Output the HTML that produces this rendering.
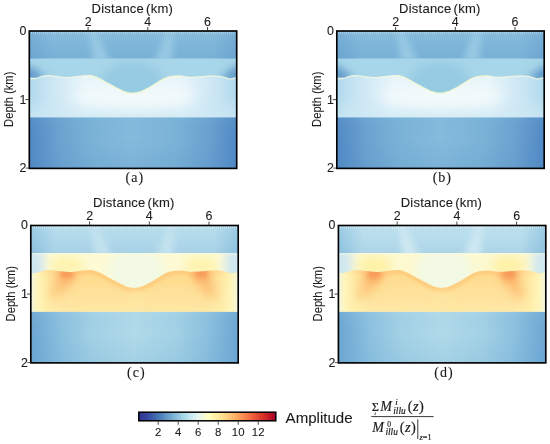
<!DOCTYPE html>
<html><head><meta charset="utf-8"><title>Figure</title>
<style>
html,body{margin:0;padding:0;background:#fff;}
body{width:550px;height:444px;overflow:hidden;}
svg{display:block;}
.ax{font-family:"Liberation Sans",Arial,sans-serif;fill:#1c1c1c;stroke:#1c1c1c;stroke-width:0.1px;}
.lab{font-family:"Liberation Serif","Times New Roman",serif;fill:#1c1c1c;stroke:#1c1c1c;stroke-width:0.12px;}
.fm text{font-family:"Liberation Serif","Times New Roman",serif;fill:#1c1c1c;stroke:#1c1c1c;stroke-width:0.18px;}
</style></head><body>
<svg width="550" height="444" viewBox="0 0 550 444">
<defs>
<clipPath id="clipP"><rect x="0.8" y="0.8" width="207.4" height="137.4"/></clipPath>
<clipPath id="clipTop"><rect x="0" y="0" width="209" height="28.6"/></clipPath>
<clipPath id="clipAbove"><path d="M-2.0,48.6 C-1.4,48.5 -0.1,48.4 1.5,48.3 C3.1,48.2 5.5,48.5 7.5,48.1 C9.5,47.8 11.5,46.7 13.5,46.2 C15.5,45.8 16.8,45.3 19.5,45.4 C22.2,45.5 26.2,46.3 29.5,46.6 C32.8,46.9 36.2,47.5 39.5,47.4 C42.8,47.3 46.2,46.5 49.5,46.2 C52.8,45.9 57.1,45.5 59.5,45.4 C61.9,45.3 62.7,45.6 64.0,45.9 C65.3,46.2 66.2,46.5 67.5,47.0 C68.8,47.5 70.2,48.1 71.5,48.8 C72.8,49.5 74.1,50.2 75.5,51.0 C76.9,51.8 78.6,52.7 80.0,53.5 C81.4,54.2 82.7,54.9 84.0,55.6 C85.3,56.4 86.7,57.1 88.0,57.9 C89.3,58.6 90.7,59.3 92.0,59.9 C93.3,60.6 94.7,61.2 96.0,61.7 C97.3,62.1 98.7,62.5 100.0,62.8 C101.3,63.1 102.7,63.2 104.0,63.2 C105.3,63.2 106.7,63.1 108.0,62.8 C109.3,62.5 110.7,62.1 112.0,61.7 C113.3,61.2 114.7,60.6 116.0,59.9 C117.3,59.3 118.7,58.6 120.0,57.9 C121.3,57.1 122.7,56.4 124.0,55.6 C125.3,54.8 126.7,53.9 128.0,53.1 C129.3,52.3 130.8,51.4 132.0,50.6 C133.2,49.9 134.2,49.2 135.5,48.6 C136.8,48.0 138.2,47.5 139.5,47.1 C140.8,46.7 141.5,46.5 143.5,46.3 C145.5,46.1 148.8,45.7 151.5,45.8 C154.2,45.9 156.8,46.8 159.5,47.0 C162.2,47.2 164.8,47.1 167.5,47.0 C170.2,46.9 172.8,46.4 175.5,46.2 C178.2,46.0 180.8,45.8 183.5,45.8 C186.2,45.8 189.2,45.9 191.5,46.2 C193.8,46.5 195.8,47.4 197.5,47.8 C199.2,48.2 200.2,48.8 201.5,48.8 C202.8,48.8 203.9,48.2 205.5,48.0 C207.1,47.8 210.1,47.8 211.0,47.8 L211,28.6 L-2,28.6 Z"/></clipPath>
<clipPath id="clipBelow"><path d="M-2.0,48.6 C-1.4,48.5 -0.1,48.4 1.5,48.3 C3.1,48.2 5.5,48.5 7.5,48.1 C9.5,47.8 11.5,46.7 13.5,46.2 C15.5,45.8 16.8,45.3 19.5,45.4 C22.2,45.5 26.2,46.3 29.5,46.6 C32.8,46.9 36.2,47.5 39.5,47.4 C42.8,47.3 46.2,46.5 49.5,46.2 C52.8,45.9 57.1,45.5 59.5,45.4 C61.9,45.3 62.7,45.6 64.0,45.9 C65.3,46.2 66.2,46.5 67.5,47.0 C68.8,47.5 70.2,48.1 71.5,48.8 C72.8,49.5 74.1,50.2 75.5,51.0 C76.9,51.8 78.6,52.7 80.0,53.5 C81.4,54.2 82.7,54.9 84.0,55.6 C85.3,56.4 86.7,57.1 88.0,57.9 C89.3,58.6 90.7,59.3 92.0,59.9 C93.3,60.6 94.7,61.2 96.0,61.7 C97.3,62.1 98.7,62.5 100.0,62.8 C101.3,63.1 102.7,63.2 104.0,63.2 C105.3,63.2 106.7,63.1 108.0,62.8 C109.3,62.5 110.7,62.1 112.0,61.7 C113.3,61.2 114.7,60.6 116.0,59.9 C117.3,59.3 118.7,58.6 120.0,57.9 C121.3,57.1 122.7,56.4 124.0,55.6 C125.3,54.8 126.7,53.9 128.0,53.1 C129.3,52.3 130.8,51.4 132.0,50.6 C133.2,49.9 134.2,49.2 135.5,48.6 C136.8,48.0 138.2,47.5 139.5,47.1 C140.8,46.7 141.5,46.5 143.5,46.3 C145.5,46.1 148.8,45.7 151.5,45.8 C154.2,45.9 156.8,46.8 159.5,47.0 C162.2,47.2 164.8,47.1 167.5,47.0 C170.2,46.9 172.8,46.4 175.5,46.2 C178.2,46.0 180.8,45.8 183.5,45.8 C186.2,45.8 189.2,45.9 191.5,46.2 C193.8,46.5 195.8,47.4 197.5,47.8 C199.2,48.2 200.2,48.8 201.5,48.8 C202.8,48.8 203.9,48.2 205.5,48.0 C207.1,47.8 210.1,47.8 211.0,47.8 L211,87.2 L-2,87.2 Z"/></clipPath>
<filter id="blur05" x="-5%" y="-50%" width="110%" height="200%"><feGaussianBlur stdDeviation="0.5"/></filter>
<filter id="blur2" x="-20%" y="-50%" width="140%" height="200%"><feGaussianBlur stdDeviation="1.8"/></filter>
<filter id="blur3" x="-50%" y="-50%" width="200%" height="200%"><feGaussianBlur stdDeviation="3"/></filter>
<filter id="blur4" x="-50%" y="-50%" width="200%" height="200%"><feGaussianBlur stdDeviation="4"/></filter>
<filter id="blur5" x="-50%" y="-50%" width="200%" height="200%"><feGaussianBlur stdDeviation="5"/></filter>
<filter id="blur6" x="-50%" y="-50%" width="200%" height="200%"><feGaussianBlur stdDeviation="6"/></filter>
<linearGradient id="topV" x1="0" x2="0" y1="0" y2="1">
  <stop offset="0" stop-color="#ffffff" stop-opacity="0.1"/>
  <stop offset="0.5" stop-color="#ffffff" stop-opacity="0"/>
  <stop offset="0.5" stop-color="#3f72b8" stop-opacity="0"/>
  <stop offset="1" stop-color="#3f72b8" stop-opacity="0.08"/>
</linearGradient>
<linearGradient id="cbar" x1="0" x2="1" y1="0" y2="0">
  <stop offset="0" stop-color="#313695"/>
  <stop offset="0.06" stop-color="#36479f"/>
  <stop offset="0.14" stop-color="#4575b4"/>
  <stop offset="0.24" stop-color="#74add1"/>
  <stop offset="0.33" stop-color="#abd9e9"/>
  <stop offset="0.42" stop-color="#e0f3f8"/>
  <stop offset="0.51" stop-color="#ffffbf"/>
  <stop offset="0.61" stop-color="#fee090"/>
  <stop offset="0.71" stop-color="#fdae61"/>
  <stop offset="0.81" stop-color="#f46d43"/>
  <stop offset="0.91" stop-color="#d73027"/>
  <stop offset="1" stop-color="#a50026"/>
</linearGradient>

<linearGradient id="blueedgeTop" x1="0" x2="1" y1="0" y2="0">
  <stop offset="0" stop-color="#6fa8d2" stop-opacity="1"/>
  <stop offset="0.12" stop-color="#6fa8d2" stop-opacity="0"/>
  <stop offset="0.88" stop-color="#6fa8d2" stop-opacity="0"/>
  <stop offset="1" stop-color="#6fa8d2" stop-opacity="1"/>
</linearGradient>
<linearGradient id="bluebotH" x1="0" x2="1" y1="0" y2="0">
  <stop offset="0" stop-color="#5088c5"/>
  <stop offset="0.15" stop-color="#6ba3d0"/>
  <stop offset="0.3" stop-color="#7bb3d7"/>
  <stop offset="0.5" stop-color="#85bbdc"/>
  <stop offset="0.7" stop-color="#7bb3d7"/>
  <stop offset="0.85" stop-color="#6ba3d0"/>
  <stop offset="1" stop-color="#5088c5"/>
</linearGradient>
<linearGradient id="bluebotV" x1="0" x2="0" y1="0" y2="1">
  <stop offset="0" stop-color="#85bbdc" stop-opacity="0.12"/>
  <stop offset="0.4" stop-color="#5088c5" stop-opacity="0"/>
  <stop offset="1" stop-color="#5088c5" stop-opacity="0.18"/>
</linearGradient>


<linearGradient id="warmedgeTop" x1="0" x2="1" y1="0" y2="0">
  <stop offset="0" stop-color="#93c6e1" stop-opacity="1"/>
  <stop offset="0.12" stop-color="#93c6e1" stop-opacity="0"/>
  <stop offset="0.88" stop-color="#93c6e1" stop-opacity="0"/>
  <stop offset="1" stop-color="#93c6e1" stop-opacity="1"/>
</linearGradient>
<linearGradient id="warmbotH" x1="0" x2="1" y1="0" y2="0">
  <stop offset="0" stop-color="#6aa5d2"/>
  <stop offset="0.15" stop-color="#8bc0de"/>
  <stop offset="0.3" stop-color="#a3d1e5"/>
  <stop offset="0.5" stop-color="#b0dae9"/>
  <stop offset="0.7" stop-color="#a3d1e5"/>
  <stop offset="0.85" stop-color="#8bc0de"/>
  <stop offset="1" stop-color="#6aa5d2"/>
</linearGradient>
<linearGradient id="warmbotV" x1="0" x2="0" y1="0" y2="1">
  <stop offset="0" stop-color="#b0dae9" stop-opacity="0.12"/>
  <stop offset="0.4" stop-color="#6aa5d2" stop-opacity="0"/>
  <stop offset="1" stop-color="#6aa5d2" stop-opacity="0.18"/>
</linearGradient>


<linearGradient id="warm2edgeTop" x1="0" x2="1" y1="0" y2="0">
  <stop offset="0" stop-color="#93c6e1" stop-opacity="1"/>
  <stop offset="0.12" stop-color="#93c6e1" stop-opacity="0"/>
  <stop offset="0.88" stop-color="#93c6e1" stop-opacity="0"/>
  <stop offset="1" stop-color="#93c6e1" stop-opacity="1"/>
</linearGradient>
<linearGradient id="warm2botH" x1="0" x2="1" y1="0" y2="0">
  <stop offset="0" stop-color="#6aa5d2"/>
  <stop offset="0.15" stop-color="#8bc0de"/>
  <stop offset="0.3" stop-color="#a3d1e5"/>
  <stop offset="0.5" stop-color="#b0dae9"/>
  <stop offset="0.7" stop-color="#a3d1e5"/>
  <stop offset="0.85" stop-color="#8bc0de"/>
  <stop offset="1" stop-color="#6aa5d2"/>
</linearGradient>
<linearGradient id="warm2botV" x1="0" x2="0" y1="0" y2="1">
  <stop offset="0" stop-color="#b0dae9" stop-opacity="0.12"/>
  <stop offset="0.4" stop-color="#6aa5d2" stop-opacity="0"/>
  <stop offset="1" stop-color="#6aa5d2" stop-opacity="0.18"/>
</linearGradient>


<linearGradient id="bluethirdH" x1="0" x2="1" y1="0" y2="0">
  <stop offset="0" stop-color="#aed8ed" stop-opacity="1"/>
  <stop offset="0.1" stop-color="#b4dbee" stop-opacity="0.6"/>
  <stop offset="0.27" stop-color="#b4dbee" stop-opacity="0"/>
  <stop offset="0.73" stop-color="#b4dbee" stop-opacity="0"/>
  <stop offset="0.9" stop-color="#b4dbee" stop-opacity="0.6"/>
  <stop offset="1" stop-color="#aed8ed" stop-opacity="1"/>
</linearGradient>
<linearGradient id="bluethirdV" x1="0" x2="0" y1="0" y2="1">
  <stop offset="0.55" stop-color="#cde8f4" stop-opacity="0"/>
  <stop offset="1" stop-color="#cde8f4" stop-opacity="0.75"/>
</linearGradient>
<linearGradient id="warmthirdH" x1="0" x2="1" y1="0" y2="0">
  <stop offset="0" stop-color="#eef6e6" stop-opacity="1"/>
  <stop offset="0.035" stop-color="#fff6bd" stop-opacity="0.95"/>
  <stop offset="0.09" stop-color="#fff3b0" stop-opacity="0.5"/>
  <stop offset="0.16" stop-color="#fff3b0" stop-opacity="0"/>
  <stop offset="0.84" stop-color="#fff3b0" stop-opacity="0"/>
  <stop offset="0.91" stop-color="#fff3b0" stop-opacity="0.5"/>
  <stop offset="0.965" stop-color="#fff6bd" stop-opacity="0.95"/>
  <stop offset="1" stop-color="#eef6e6" stop-opacity="1"/>
</linearGradient>
<linearGradient id="warmthirdV" x1="0" x2="0" y1="0" y2="1">
  <stop offset="0.3" stop-color="#feeaaa" stop-opacity="0"/>
  <stop offset="1" stop-color="#feeaaa" stop-opacity="0.9"/>
</linearGradient>


<g id="blue">
  <g clip-path="url(#clipP)">
    <!-- top layer -->
    <rect x="0" y="0" width="209" height="28.6" fill="#7eb6d9"/>
    <rect x="0" y="0" width="209" height="28.6" fill="url(#blueedgeTop)"/>
    <rect x="0" y="0" width="209" height="28.6" fill="url(#topV)"/>
    <g filter="url(#blur3)" clip-path="url(#clipTop)">
      <polygon points="60.5,-2 66.5,-2 82,31.6 65,31.6" fill="#98c9e3"/>
      <polygon points="139.5,-2 145.5,-2 143,31.6 126,31.6" fill="#98c9e3"/>
    </g>
    <!-- second layer -->
    <path d="M-2.0,48.6 C-1.4,48.5 -0.1,48.4 1.5,48.3 C3.1,48.2 5.5,48.5 7.5,48.1 C9.5,47.8 11.5,46.7 13.5,46.2 C15.5,45.8 16.8,45.3 19.5,45.4 C22.2,45.5 26.2,46.3 29.5,46.6 C32.8,46.9 36.2,47.5 39.5,47.4 C42.8,47.3 46.2,46.5 49.5,46.2 C52.8,45.9 57.1,45.5 59.5,45.4 C61.9,45.3 62.7,45.6 64.0,45.9 C65.3,46.2 66.2,46.5 67.5,47.0 C68.8,47.5 70.2,48.1 71.5,48.8 C72.8,49.5 74.1,50.2 75.5,51.0 C76.9,51.8 78.6,52.7 80.0,53.5 C81.4,54.2 82.7,54.9 84.0,55.6 C85.3,56.4 86.7,57.1 88.0,57.9 C89.3,58.6 90.7,59.3 92.0,59.9 C93.3,60.6 94.7,61.2 96.0,61.7 C97.3,62.1 98.7,62.5 100.0,62.8 C101.3,63.1 102.7,63.2 104.0,63.2 C105.3,63.2 106.7,63.1 108.0,62.8 C109.3,62.5 110.7,62.1 112.0,61.7 C113.3,61.2 114.7,60.6 116.0,59.9 C117.3,59.3 118.7,58.6 120.0,57.9 C121.3,57.1 122.7,56.4 124.0,55.6 C125.3,54.8 126.7,53.9 128.0,53.1 C129.3,52.3 130.8,51.4 132.0,50.6 C133.2,49.9 134.2,49.2 135.5,48.6 C136.8,48.0 138.2,47.5 139.5,47.1 C140.8,46.7 141.5,46.5 143.5,46.3 C145.5,46.1 148.8,45.7 151.5,45.8 C154.2,45.9 156.8,46.8 159.5,47.0 C162.2,47.2 164.8,47.1 167.5,47.0 C170.2,46.9 172.8,46.4 175.5,46.2 C178.2,46.0 180.8,45.8 183.5,45.8 C186.2,45.8 189.2,45.9 191.5,46.2 C193.8,46.5 195.8,47.4 197.5,47.8 C199.2,48.2 200.2,48.8 201.5,48.8 C202.8,48.8 203.9,48.2 205.5,48.0 C207.1,47.8 210.1,47.8 211.0,47.8 L211,28.6 L-2,28.6 Z" fill="#a7d5e9"/>
    <g clip-path="url(#clipAbove)">
      
  <g filter="url(#blur4)">
    <ellipse cx="104" cy="52" rx="30" ry="20" fill="#95cae3" opacity="0.95"/>
    <polygon points="-6,36.6 3,36.6 20,50 -6,52" fill="#5f98c9"/>
    <polygon points="215,36.6 206,36.6 190,50 215,52" fill="#5f98c9"/>
  </g>
    </g>
    <!-- third layer -->
    <path d="M-2.0,48.6 C-1.4,48.5 -0.1,48.4 1.5,48.3 C3.1,48.2 5.5,48.5 7.5,48.1 C9.5,47.8 11.5,46.7 13.5,46.2 C15.5,45.8 16.8,45.3 19.5,45.4 C22.2,45.5 26.2,46.3 29.5,46.6 C32.8,46.9 36.2,47.5 39.5,47.4 C42.8,47.3 46.2,46.5 49.5,46.2 C52.8,45.9 57.1,45.5 59.5,45.4 C61.9,45.3 62.7,45.6 64.0,45.9 C65.3,46.2 66.2,46.5 67.5,47.0 C68.8,47.5 70.2,48.1 71.5,48.8 C72.8,49.5 74.1,50.2 75.5,51.0 C76.9,51.8 78.6,52.7 80.0,53.5 C81.4,54.2 82.7,54.9 84.0,55.6 C85.3,56.4 86.7,57.1 88.0,57.9 C89.3,58.6 90.7,59.3 92.0,59.9 C93.3,60.6 94.7,61.2 96.0,61.7 C97.3,62.1 98.7,62.5 100.0,62.8 C101.3,63.1 102.7,63.2 104.0,63.2 C105.3,63.2 106.7,63.1 108.0,62.8 C109.3,62.5 110.7,62.1 112.0,61.7 C113.3,61.2 114.7,60.6 116.0,59.9 C117.3,59.3 118.7,58.6 120.0,57.9 C121.3,57.1 122.7,56.4 124.0,55.6 C125.3,54.8 126.7,53.9 128.0,53.1 C129.3,52.3 130.8,51.4 132.0,50.6 C133.2,49.9 134.2,49.2 135.5,48.6 C136.8,48.0 138.2,47.5 139.5,47.1 C140.8,46.7 141.5,46.5 143.5,46.3 C145.5,46.1 148.8,45.7 151.5,45.8 C154.2,45.9 156.8,46.8 159.5,47.0 C162.2,47.2 164.8,47.1 167.5,47.0 C170.2,46.9 172.8,46.4 175.5,46.2 C178.2,46.0 180.8,45.8 183.5,45.8 C186.2,45.8 189.2,45.9 191.5,46.2 C193.8,46.5 195.8,47.4 197.5,47.8 C199.2,48.2 200.2,48.8 201.5,48.8 C202.8,48.8 203.9,48.2 205.5,48.0 C207.1,47.8 210.1,47.8 211.0,47.8 L211,87.2 L-2,87.2 Z" fill="#e8f5fa"/>
    <g clip-path="url(#clipBelow)">
      
  <rect x="0" y="40" width="209" height="50" fill="url(#bluethirdH)"/>
  <rect x="0" y="40" width="209" height="47.2" fill="url(#bluethirdV)"/>
  <g filter="url(#blur6)"><ellipse cx="106" cy="66" rx="60" ry="12" fill="#f3fafc" opacity="0.85"/></g>

    </g>
    <g filter="url(#blur05)" opacity="0.85"><path d="M-2.0,48.6 C-1.4,48.5 -0.1,48.4 1.5,48.3 C3.1,48.2 5.5,48.5 7.5,48.1 C9.5,47.8 11.5,46.7 13.5,46.2 C15.5,45.8 16.8,45.3 19.5,45.4 C22.2,45.5 26.2,46.3 29.5,46.6 C32.8,46.9 36.2,47.5 39.5,47.4 C42.8,47.3 46.2,46.5 49.5,46.2 C52.8,45.9 57.1,45.5 59.5,45.4 C61.9,45.3 62.7,45.6 64.0,45.9 C65.3,46.2 66.2,46.5 67.5,47.0 C68.8,47.5 70.2,48.1 71.5,48.8 C72.8,49.5 74.1,50.2 75.5,51.0 C76.9,51.8 78.6,52.7 80.0,53.5 C81.4,54.2 82.7,54.9 84.0,55.6 C85.3,56.4 86.7,57.1 88.0,57.9 C89.3,58.6 90.7,59.3 92.0,59.9 C93.3,60.6 94.7,61.2 96.0,61.7 C97.3,62.1 98.7,62.5 100.0,62.8 C101.3,63.1 102.7,63.2 104.0,63.2 C105.3,63.2 106.7,63.1 108.0,62.8 C109.3,62.5 110.7,62.1 112.0,61.7 C113.3,61.2 114.7,60.6 116.0,59.9 C117.3,59.3 118.7,58.6 120.0,57.9 C121.3,57.1 122.7,56.4 124.0,55.6 C125.3,54.8 126.7,53.9 128.0,53.1 C129.3,52.3 130.8,51.4 132.0,50.6 C133.2,49.9 134.2,49.2 135.5,48.6 C136.8,48.0 138.2,47.5 139.5,47.1 C140.8,46.7 141.5,46.5 143.5,46.3 C145.5,46.1 148.8,45.7 151.5,45.8 C154.2,45.9 156.8,46.8 159.5,47.0 C162.2,47.2 164.8,47.1 167.5,47.0 C170.2,46.9 172.8,46.4 175.5,46.2 C178.2,46.0 180.8,45.8 183.5,45.8 C186.2,45.8 189.2,45.9 191.5,46.2 C193.8,46.5 195.8,47.4 197.5,47.8 C199.2,48.2 200.2,48.8 201.5,48.8 C202.8,48.8 203.9,48.2 205.5,48.0 C207.1,47.8 210.1,47.8 211.0,47.8" fill="none" stroke="#f1f7de" stroke-width="1.3"/>
    <path d="M59.5,45.4 C60.2,45.5 62.7,45.6 64.0,45.9 C65.3,46.2 66.2,46.5 67.5,47.0 C68.8,47.5 70.2,48.1 71.5,48.8 C72.8,49.5 74.1,50.2 75.5,51.0 C76.9,51.8 78.6,52.7 80.0,53.5 C81.4,54.2 82.7,54.9 84.0,55.6 C85.3,56.4 86.7,57.1 88.0,57.9 C89.3,58.6 90.7,59.3 92.0,59.9 C93.3,60.6 94.7,61.2 96.0,61.7 C97.3,62.1 98.7,62.5 100.0,62.8 C101.3,63.1 102.7,63.2 104.0,63.2 C105.3,63.2 106.7,63.1 108.0,62.8 C109.3,62.5 110.7,62.1 112.0,61.7 C113.3,61.2 114.7,60.6 116.0,59.9 C117.3,59.3 118.7,58.6 120.0,57.9 C121.3,57.1 122.7,56.4 124.0,55.6 C125.3,54.8 126.7,53.9 128.0,53.1 C129.3,52.3 130.8,51.4 132.0,50.6 C133.2,49.9 134.2,49.2 135.5,48.6 C136.8,48.0 138.2,47.5 139.5,47.1 C140.8,46.7 141.5,46.5 143.5,46.3 C145.5,46.1 150.2,45.9 151.5,45.8" fill="none" stroke="#f3f7d0" stroke-width="1.2" stroke-linecap="round"/></g>
    <!-- bottom layer -->
    <rect x="0" y="87.2" width="209" height="51.8" fill="url(#bluebotH)"/>
    <rect x="0" y="87.2" width="209" height="51.8" fill="url(#bluebotV)"/>
  </g>
  <rect x="0.8" y="0.8" width="207.4" height="137.4" fill="none" stroke="#000" stroke-width="1.65"/>
</g>

<g id="warm">
  <g clip-path="url(#clipP)">
    <!-- top layer -->
    <rect x="0" y="0" width="209" height="28.6" fill="#b1d9ea"/>
    <rect x="0" y="0" width="209" height="28.6" fill="url(#warmedgeTop)"/>
    <rect x="0" y="0" width="209" height="28.6" fill="url(#topV)"/>
    <g filter="url(#blur3)" clip-path="url(#clipTop)">
      <polygon points="60.5,-2 66.5,-2 82,31.6 65,31.6" fill="#c3e2ef"/>
      <polygon points="139.5,-2 145.5,-2 143,31.6 126,31.6" fill="#c3e2ef"/>
    </g>
    <!-- second layer -->
    <path d="M-2.0,48.6 C-1.4,48.5 -0.1,48.4 1.5,48.3 C3.1,48.2 5.5,48.5 7.5,48.1 C9.5,47.8 11.5,46.7 13.5,46.2 C15.5,45.8 16.8,45.3 19.5,45.4 C22.2,45.5 26.2,46.3 29.5,46.6 C32.8,46.9 36.2,47.5 39.5,47.4 C42.8,47.3 46.2,46.5 49.5,46.2 C52.8,45.9 57.1,45.5 59.5,45.4 C61.9,45.3 62.7,45.6 64.0,45.9 C65.3,46.2 66.2,46.5 67.5,47.0 C68.8,47.5 70.2,48.1 71.5,48.8 C72.8,49.5 74.1,50.2 75.5,51.0 C76.9,51.8 78.6,52.7 80.0,53.5 C81.4,54.2 82.7,54.9 84.0,55.6 C85.3,56.4 86.7,57.1 88.0,57.9 C89.3,58.6 90.7,59.3 92.0,59.9 C93.3,60.6 94.7,61.2 96.0,61.7 C97.3,62.1 98.7,62.5 100.0,62.8 C101.3,63.1 102.7,63.2 104.0,63.2 C105.3,63.2 106.7,63.1 108.0,62.8 C109.3,62.5 110.7,62.1 112.0,61.7 C113.3,61.2 114.7,60.6 116.0,59.9 C117.3,59.3 118.7,58.6 120.0,57.9 C121.3,57.1 122.7,56.4 124.0,55.6 C125.3,54.8 126.7,53.9 128.0,53.1 C129.3,52.3 130.8,51.4 132.0,50.6 C133.2,49.9 134.2,49.2 135.5,48.6 C136.8,48.0 138.2,47.5 139.5,47.1 C140.8,46.7 141.5,46.5 143.5,46.3 C145.5,46.1 148.8,45.7 151.5,45.8 C154.2,45.9 156.8,46.8 159.5,47.0 C162.2,47.2 164.8,47.1 167.5,47.0 C170.2,46.9 172.8,46.4 175.5,46.2 C178.2,46.0 180.8,45.8 183.5,45.8 C186.2,45.8 189.2,45.9 191.5,46.2 C193.8,46.5 195.8,47.4 197.5,47.8 C199.2,48.2 200.2,48.8 201.5,48.8 C202.8,48.8 203.9,48.2 205.5,48.0 C207.1,47.8 210.1,47.8 211.0,47.8 L211,28.6 L-2,28.6 Z" fill="#fdfad4"/>
    <g clip-path="url(#clipAbove)">
      
  <g filter="url(#blur5)">
    <ellipse cx="37" cy="41" rx="17" ry="10" fill="#fef2ac" opacity="0.95"/>
    <ellipse cx="171" cy="41" rx="17" ry="10" fill="#fef2ac" opacity="0.95"/>
    <ellipse cx="106" cy="46" rx="28" ry="24" fill="#f2f9e4" />
    <rect x="-8" y="24.6" width="22" height="34" fill="#cfe7f1"/>
    <rect x="195" y="24.6" width="22" height="34" fill="#cfe7f1"/>
  </g>
  <rect x="0" y="28.6" width="209" height="1.5" fill="#fffef0" opacity="0.25"/>
    </g>
    <!-- third layer -->
    <path d="M-2.0,48.6 C-1.4,48.5 -0.1,48.4 1.5,48.3 C3.1,48.2 5.5,48.5 7.5,48.1 C9.5,47.8 11.5,46.7 13.5,46.2 C15.5,45.8 16.8,45.3 19.5,45.4 C22.2,45.5 26.2,46.3 29.5,46.6 C32.8,46.9 36.2,47.5 39.5,47.4 C42.8,47.3 46.2,46.5 49.5,46.2 C52.8,45.9 57.1,45.5 59.5,45.4 C61.9,45.3 62.7,45.6 64.0,45.9 C65.3,46.2 66.2,46.5 67.5,47.0 C68.8,47.5 70.2,48.1 71.5,48.8 C72.8,49.5 74.1,50.2 75.5,51.0 C76.9,51.8 78.6,52.7 80.0,53.5 C81.4,54.2 82.7,54.9 84.0,55.6 C85.3,56.4 86.7,57.1 88.0,57.9 C89.3,58.6 90.7,59.3 92.0,59.9 C93.3,60.6 94.7,61.2 96.0,61.7 C97.3,62.1 98.7,62.5 100.0,62.8 C101.3,63.1 102.7,63.2 104.0,63.2 C105.3,63.2 106.7,63.1 108.0,62.8 C109.3,62.5 110.7,62.1 112.0,61.7 C113.3,61.2 114.7,60.6 116.0,59.9 C117.3,59.3 118.7,58.6 120.0,57.9 C121.3,57.1 122.7,56.4 124.0,55.6 C125.3,54.8 126.7,53.9 128.0,53.1 C129.3,52.3 130.8,51.4 132.0,50.6 C133.2,49.9 134.2,49.2 135.5,48.6 C136.8,48.0 138.2,47.5 139.5,47.1 C140.8,46.7 141.5,46.5 143.5,46.3 C145.5,46.1 148.8,45.7 151.5,45.8 C154.2,45.9 156.8,46.8 159.5,47.0 C162.2,47.2 164.8,47.1 167.5,47.0 C170.2,46.9 172.8,46.4 175.5,46.2 C178.2,46.0 180.8,45.8 183.5,45.8 C186.2,45.8 189.2,45.9 191.5,46.2 C193.8,46.5 195.8,47.4 197.5,47.8 C199.2,48.2 200.2,48.8 201.5,48.8 C202.8,48.8 203.9,48.2 205.5,48.0 C207.1,47.8 210.1,47.8 211.0,47.8 L211,87.2 L-2,87.2 Z" fill="#fedc90"/>
    <g clip-path="url(#clipBelow)">
      
  <rect x="0" y="40" width="209" height="50" fill="url(#warmthirdV)"/>
  <g filter="url(#blur2)">
    <path d="M-2.0,48.6 C-1.4,48.5 -0.1,48.4 1.5,48.3 C3.1,48.2 5.5,48.5 7.5,48.1 C9.5,47.8 11.5,46.7 13.5,46.2 C15.5,45.8 16.8,45.3 19.5,45.4 C22.2,45.5 26.2,46.3 29.5,46.6 C32.8,46.9 36.2,47.5 39.5,47.4 C42.8,47.3 46.2,46.5 49.5,46.2 C52.8,45.9 57.1,45.5 59.5,45.4 C61.9,45.3 62.7,45.6 64.0,45.9 C65.3,46.2 66.2,46.5 67.5,47.0 C68.8,47.5 70.2,48.1 71.5,48.8 C72.8,49.5 74.1,50.2 75.5,51.0 C76.9,51.8 78.6,52.7 80.0,53.5 C81.4,54.2 82.7,54.9 84.0,55.6 C85.3,56.4 86.7,57.1 88.0,57.9 C89.3,58.6 90.7,59.3 92.0,59.9 C93.3,60.6 94.7,61.2 96.0,61.7 C97.3,62.1 98.7,62.5 100.0,62.8 C101.3,63.1 102.7,63.2 104.0,63.2 C105.3,63.2 106.7,63.1 108.0,62.8 C109.3,62.5 110.7,62.1 112.0,61.7 C113.3,61.2 114.7,60.6 116.0,59.9 C117.3,59.3 118.7,58.6 120.0,57.9 C121.3,57.1 122.7,56.4 124.0,55.6 C125.3,54.8 126.7,53.9 128.0,53.1 C129.3,52.3 130.8,51.4 132.0,50.6 C133.2,49.9 134.2,49.2 135.5,48.6 C136.8,48.0 138.2,47.5 139.5,47.1 C140.8,46.7 141.5,46.5 143.5,46.3 C145.5,46.1 148.8,45.7 151.5,45.8 C154.2,45.9 156.8,46.8 159.5,47.0 C162.2,47.2 164.8,47.1 167.5,47.0 C170.2,46.9 172.8,46.4 175.5,46.2 C178.2,46.0 180.8,45.8 183.5,45.8 C186.2,45.8 189.2,45.9 191.5,46.2 C193.8,46.5 195.8,47.4 197.5,47.8 C199.2,48.2 200.2,48.8 201.5,48.8 C202.8,48.8 203.9,48.2 205.5,48.0 C207.1,47.8 210.1,47.8 211.0,47.8" fill="none" stroke="#fdbd6c" stroke-width="5" opacity="0.55" transform="translate(0,1.5)"/>
  </g>
  <g filter="url(#blur5)" opacity="0.75">
    <polygon points="27,44 46,44 42,58 24,74 14,74" fill="#fcb66c"/>
    <polygon points="162,44 181,44 192,74 180,74 166,58" fill="#fcb66c"/>
    <ellipse cx="106" cy="76" rx="5" ry="14" fill="#fee9a8" opacity="0.8"/>
  </g>
  <g filter="url(#blur3)">
    <ellipse cx="36" cy="50" rx="9" ry="5.5" fill="#f9a863"/>
    <ellipse cx="171.5" cy="50" rx="9" ry="5.5" fill="#f9a863"/>
  </g>
  <g filter="url(#blur2)">
    <ellipse cx="36.5" cy="49" rx="6" ry="3" fill="#f7975a" opacity="0.75"/>
    <ellipse cx="171.5" cy="48.6" rx="6" ry="3" fill="#f7975a" opacity="0.75"/>
  </g>
  <rect x="0" y="40" width="209" height="50" fill="url(#warmthirdH)"/>

    </g>
    <g filter="url(#blur05)" opacity="0.0"><path d="M-2.0,48.6 C-1.4,48.5 -0.1,48.4 1.5,48.3 C3.1,48.2 5.5,48.5 7.5,48.1 C9.5,47.8 11.5,46.7 13.5,46.2 C15.5,45.8 16.8,45.3 19.5,45.4 C22.2,45.5 26.2,46.3 29.5,46.6 C32.8,46.9 36.2,47.5 39.5,47.4 C42.8,47.3 46.2,46.5 49.5,46.2 C52.8,45.9 57.1,45.5 59.5,45.4 C61.9,45.3 62.7,45.6 64.0,45.9 C65.3,46.2 66.2,46.5 67.5,47.0 C68.8,47.5 70.2,48.1 71.5,48.8 C72.8,49.5 74.1,50.2 75.5,51.0 C76.9,51.8 78.6,52.7 80.0,53.5 C81.4,54.2 82.7,54.9 84.0,55.6 C85.3,56.4 86.7,57.1 88.0,57.9 C89.3,58.6 90.7,59.3 92.0,59.9 C93.3,60.6 94.7,61.2 96.0,61.7 C97.3,62.1 98.7,62.5 100.0,62.8 C101.3,63.1 102.7,63.2 104.0,63.2 C105.3,63.2 106.7,63.1 108.0,62.8 C109.3,62.5 110.7,62.1 112.0,61.7 C113.3,61.2 114.7,60.6 116.0,59.9 C117.3,59.3 118.7,58.6 120.0,57.9 C121.3,57.1 122.7,56.4 124.0,55.6 C125.3,54.8 126.7,53.9 128.0,53.1 C129.3,52.3 130.8,51.4 132.0,50.6 C133.2,49.9 134.2,49.2 135.5,48.6 C136.8,48.0 138.2,47.5 139.5,47.1 C140.8,46.7 141.5,46.5 143.5,46.3 C145.5,46.1 148.8,45.7 151.5,45.8 C154.2,45.9 156.8,46.8 159.5,47.0 C162.2,47.2 164.8,47.1 167.5,47.0 C170.2,46.9 172.8,46.4 175.5,46.2 C178.2,46.0 180.8,45.8 183.5,45.8 C186.2,45.8 189.2,45.9 191.5,46.2 C193.8,46.5 195.8,47.4 197.5,47.8 C199.2,48.2 200.2,48.8 201.5,48.8 C202.8,48.8 203.9,48.2 205.5,48.0 C207.1,47.8 210.1,47.8 211.0,47.8" fill="none" stroke="#fdc070" stroke-width="1.3"/>
    <path d="M59.5,45.4 C60.2,45.5 62.7,45.6 64.0,45.9 C65.3,46.2 66.2,46.5 67.5,47.0 C68.8,47.5 70.2,48.1 71.5,48.8 C72.8,49.5 74.1,50.2 75.5,51.0 C76.9,51.8 78.6,52.7 80.0,53.5 C81.4,54.2 82.7,54.9 84.0,55.6 C85.3,56.4 86.7,57.1 88.0,57.9 C89.3,58.6 90.7,59.3 92.0,59.9 C93.3,60.6 94.7,61.2 96.0,61.7 C97.3,62.1 98.7,62.5 100.0,62.8 C101.3,63.1 102.7,63.2 104.0,63.2 C105.3,63.2 106.7,63.1 108.0,62.8 C109.3,62.5 110.7,62.1 112.0,61.7 C113.3,61.2 114.7,60.6 116.0,59.9 C117.3,59.3 118.7,58.6 120.0,57.9 C121.3,57.1 122.7,56.4 124.0,55.6 C125.3,54.8 126.7,53.9 128.0,53.1 C129.3,52.3 130.8,51.4 132.0,50.6 C133.2,49.9 134.2,49.2 135.5,48.6 C136.8,48.0 138.2,47.5 139.5,47.1 C140.8,46.7 141.5,46.5 143.5,46.3 C145.5,46.1 150.2,45.9 151.5,45.8" fill="none" stroke="none" stroke-width="1.2" stroke-linecap="round"/></g>
    <!-- bottom layer -->
    <rect x="0" y="87.2" width="209" height="51.8" fill="url(#warmbotH)"/>
    <rect x="0" y="87.2" width="209" height="51.8" fill="url(#warmbotV)"/>
  </g>
  <rect x="0.8" y="0.8" width="207.4" height="137.4" fill="none" stroke="#000" stroke-width="1.65"/>
</g>

<g id="warm2">
  <g clip-path="url(#clipP)">
    <!-- top layer -->
    <rect x="0" y="0" width="209" height="28.6" fill="#b6dceb"/>
    <rect x="0" y="0" width="209" height="28.6" fill="url(#warm2edgeTop)"/>
    <rect x="0" y="0" width="209" height="28.6" fill="url(#topV)"/>
    <g filter="url(#blur3)" clip-path="url(#clipTop)">
      <polygon points="60.5,-2 66.5,-2 82,31.6 65,31.6" fill="#cde8f2"/>
      <polygon points="139.5,-2 145.5,-2 143,31.6 126,31.6" fill="#cde8f2"/>
    </g>
    <!-- second layer -->
    <path d="M-2.0,48.6 C-1.4,48.5 -0.1,48.4 1.5,48.3 C3.1,48.2 5.5,48.5 7.5,48.1 C9.5,47.8 11.5,46.7 13.5,46.2 C15.5,45.8 16.8,45.3 19.5,45.4 C22.2,45.5 26.2,46.3 29.5,46.6 C32.8,46.9 36.2,47.5 39.5,47.4 C42.8,47.3 46.2,46.5 49.5,46.2 C52.8,45.9 57.1,45.5 59.5,45.4 C61.9,45.3 62.7,45.6 64.0,45.9 C65.3,46.2 66.2,46.5 67.5,47.0 C68.8,47.5 70.2,48.1 71.5,48.8 C72.8,49.5 74.1,50.2 75.5,51.0 C76.9,51.8 78.6,52.7 80.0,53.5 C81.4,54.2 82.7,54.9 84.0,55.6 C85.3,56.4 86.7,57.1 88.0,57.9 C89.3,58.6 90.7,59.3 92.0,59.9 C93.3,60.6 94.7,61.2 96.0,61.7 C97.3,62.1 98.7,62.5 100.0,62.8 C101.3,63.1 102.7,63.2 104.0,63.2 C105.3,63.2 106.7,63.1 108.0,62.8 C109.3,62.5 110.7,62.1 112.0,61.7 C113.3,61.2 114.7,60.6 116.0,59.9 C117.3,59.3 118.7,58.6 120.0,57.9 C121.3,57.1 122.7,56.4 124.0,55.6 C125.3,54.8 126.7,53.9 128.0,53.1 C129.3,52.3 130.8,51.4 132.0,50.6 C133.2,49.9 134.2,49.2 135.5,48.6 C136.8,48.0 138.2,47.5 139.5,47.1 C140.8,46.7 141.5,46.5 143.5,46.3 C145.5,46.1 148.8,45.7 151.5,45.8 C154.2,45.9 156.8,46.8 159.5,47.0 C162.2,47.2 164.8,47.1 167.5,47.0 C170.2,46.9 172.8,46.4 175.5,46.2 C178.2,46.0 180.8,45.8 183.5,45.8 C186.2,45.8 189.2,45.9 191.5,46.2 C193.8,46.5 195.8,47.4 197.5,47.8 C199.2,48.2 200.2,48.8 201.5,48.8 C202.8,48.8 203.9,48.2 205.5,48.0 C207.1,47.8 210.1,47.8 211.0,47.8 L211,28.6 L-2,28.6 Z" fill="#fdf9d0"/>
    <g clip-path="url(#clipAbove)">
      
  <g filter="url(#blur5)">
    <ellipse cx="37" cy="41" rx="17" ry="10" fill="#fef0a4" opacity="0.95"/>
    <ellipse cx="171" cy="41" rx="17" ry="10" fill="#fef0a4" opacity="0.95"/>
    <ellipse cx="106" cy="46" rx="28" ry="24" fill="#f2f9e4" />
    <rect x="-8" y="24.6" width="22" height="34" fill="#cfe7f1"/>
    <rect x="195" y="24.6" width="22" height="34" fill="#cfe7f1"/>
  </g>
  <rect x="0" y="28.6" width="209" height="1.5" fill="#fffef0" opacity="0.25"/>
    </g>
    <!-- third layer -->
    <path d="M-2.0,48.6 C-1.4,48.5 -0.1,48.4 1.5,48.3 C3.1,48.2 5.5,48.5 7.5,48.1 C9.5,47.8 11.5,46.7 13.5,46.2 C15.5,45.8 16.8,45.3 19.5,45.4 C22.2,45.5 26.2,46.3 29.5,46.6 C32.8,46.9 36.2,47.5 39.5,47.4 C42.8,47.3 46.2,46.5 49.5,46.2 C52.8,45.9 57.1,45.5 59.5,45.4 C61.9,45.3 62.7,45.6 64.0,45.9 C65.3,46.2 66.2,46.5 67.5,47.0 C68.8,47.5 70.2,48.1 71.5,48.8 C72.8,49.5 74.1,50.2 75.5,51.0 C76.9,51.8 78.6,52.7 80.0,53.5 C81.4,54.2 82.7,54.9 84.0,55.6 C85.3,56.4 86.7,57.1 88.0,57.9 C89.3,58.6 90.7,59.3 92.0,59.9 C93.3,60.6 94.7,61.2 96.0,61.7 C97.3,62.1 98.7,62.5 100.0,62.8 C101.3,63.1 102.7,63.2 104.0,63.2 C105.3,63.2 106.7,63.1 108.0,62.8 C109.3,62.5 110.7,62.1 112.0,61.7 C113.3,61.2 114.7,60.6 116.0,59.9 C117.3,59.3 118.7,58.6 120.0,57.9 C121.3,57.1 122.7,56.4 124.0,55.6 C125.3,54.8 126.7,53.9 128.0,53.1 C129.3,52.3 130.8,51.4 132.0,50.6 C133.2,49.9 134.2,49.2 135.5,48.6 C136.8,48.0 138.2,47.5 139.5,47.1 C140.8,46.7 141.5,46.5 143.5,46.3 C145.5,46.1 148.8,45.7 151.5,45.8 C154.2,45.9 156.8,46.8 159.5,47.0 C162.2,47.2 164.8,47.1 167.5,47.0 C170.2,46.9 172.8,46.4 175.5,46.2 C178.2,46.0 180.8,45.8 183.5,45.8 C186.2,45.8 189.2,45.9 191.5,46.2 C193.8,46.5 195.8,47.4 197.5,47.8 C199.2,48.2 200.2,48.8 201.5,48.8 C202.8,48.8 203.9,48.2 205.5,48.0 C207.1,47.8 210.1,47.8 211.0,47.8 L211,87.2 L-2,87.2 Z" fill="#fedd92"/>
    <g clip-path="url(#clipBelow)">
      
  <rect x="0" y="40" width="209" height="50" fill="url(#warmthirdV)"/>
  <g filter="url(#blur2)">
    <path d="M-2.0,48.6 C-1.4,48.5 -0.1,48.4 1.5,48.3 C3.1,48.2 5.5,48.5 7.5,48.1 C9.5,47.8 11.5,46.7 13.5,46.2 C15.5,45.8 16.8,45.3 19.5,45.4 C22.2,45.5 26.2,46.3 29.5,46.6 C32.8,46.9 36.2,47.5 39.5,47.4 C42.8,47.3 46.2,46.5 49.5,46.2 C52.8,45.9 57.1,45.5 59.5,45.4 C61.9,45.3 62.7,45.6 64.0,45.9 C65.3,46.2 66.2,46.5 67.5,47.0 C68.8,47.5 70.2,48.1 71.5,48.8 C72.8,49.5 74.1,50.2 75.5,51.0 C76.9,51.8 78.6,52.7 80.0,53.5 C81.4,54.2 82.7,54.9 84.0,55.6 C85.3,56.4 86.7,57.1 88.0,57.9 C89.3,58.6 90.7,59.3 92.0,59.9 C93.3,60.6 94.7,61.2 96.0,61.7 C97.3,62.1 98.7,62.5 100.0,62.8 C101.3,63.1 102.7,63.2 104.0,63.2 C105.3,63.2 106.7,63.1 108.0,62.8 C109.3,62.5 110.7,62.1 112.0,61.7 C113.3,61.2 114.7,60.6 116.0,59.9 C117.3,59.3 118.7,58.6 120.0,57.9 C121.3,57.1 122.7,56.4 124.0,55.6 C125.3,54.8 126.7,53.9 128.0,53.1 C129.3,52.3 130.8,51.4 132.0,50.6 C133.2,49.9 134.2,49.2 135.5,48.6 C136.8,48.0 138.2,47.5 139.5,47.1 C140.8,46.7 141.5,46.5 143.5,46.3 C145.5,46.1 148.8,45.7 151.5,45.8 C154.2,45.9 156.8,46.8 159.5,47.0 C162.2,47.2 164.8,47.1 167.5,47.0 C170.2,46.9 172.8,46.4 175.5,46.2 C178.2,46.0 180.8,45.8 183.5,45.8 C186.2,45.8 189.2,45.9 191.5,46.2 C193.8,46.5 195.8,47.4 197.5,47.8 C199.2,48.2 200.2,48.8 201.5,48.8 C202.8,48.8 203.9,48.2 205.5,48.0 C207.1,47.8 210.1,47.8 211.0,47.8" fill="none" stroke="#fdbd6c" stroke-width="5" opacity="0.55" transform="translate(0,1.5)"/>
  </g>
  <g filter="url(#blur5)" opacity="0.8">
    <polygon points="27,44 46,44 42,58 24,74 14,74" fill="#fcb66c"/>
    <polygon points="162,44 181,44 192,74 180,74 166,58" fill="#fcb66c"/>
    <ellipse cx="106" cy="76" rx="5" ry="14" fill="#fee9a8" opacity="0.8"/>
  </g>
  <g filter="url(#blur3)">
    <ellipse cx="36" cy="50" rx="9" ry="5.5" fill="#f9a25d"/>
    <ellipse cx="171.5" cy="50" rx="9" ry="5.5" fill="#f9a25d"/>
  </g>
  <g filter="url(#blur2)">
    <ellipse cx="36.5" cy="49" rx="6" ry="3" fill="#f7975a" opacity="0.75"/>
    <ellipse cx="171.5" cy="48.6" rx="6" ry="3" fill="#f7975a" opacity="0.75"/>
  </g>
  <rect x="0" y="40" width="209" height="50" fill="url(#warmthirdH)"/>

    </g>
    <g filter="url(#blur05)" opacity="0.0"><path d="M-2.0,48.6 C-1.4,48.5 -0.1,48.4 1.5,48.3 C3.1,48.2 5.5,48.5 7.5,48.1 C9.5,47.8 11.5,46.7 13.5,46.2 C15.5,45.8 16.8,45.3 19.5,45.4 C22.2,45.5 26.2,46.3 29.5,46.6 C32.8,46.9 36.2,47.5 39.5,47.4 C42.8,47.3 46.2,46.5 49.5,46.2 C52.8,45.9 57.1,45.5 59.5,45.4 C61.9,45.3 62.7,45.6 64.0,45.9 C65.3,46.2 66.2,46.5 67.5,47.0 C68.8,47.5 70.2,48.1 71.5,48.8 C72.8,49.5 74.1,50.2 75.5,51.0 C76.9,51.8 78.6,52.7 80.0,53.5 C81.4,54.2 82.7,54.9 84.0,55.6 C85.3,56.4 86.7,57.1 88.0,57.9 C89.3,58.6 90.7,59.3 92.0,59.9 C93.3,60.6 94.7,61.2 96.0,61.7 C97.3,62.1 98.7,62.5 100.0,62.8 C101.3,63.1 102.7,63.2 104.0,63.2 C105.3,63.2 106.7,63.1 108.0,62.8 C109.3,62.5 110.7,62.1 112.0,61.7 C113.3,61.2 114.7,60.6 116.0,59.9 C117.3,59.3 118.7,58.6 120.0,57.9 C121.3,57.1 122.7,56.4 124.0,55.6 C125.3,54.8 126.7,53.9 128.0,53.1 C129.3,52.3 130.8,51.4 132.0,50.6 C133.2,49.9 134.2,49.2 135.5,48.6 C136.8,48.0 138.2,47.5 139.5,47.1 C140.8,46.7 141.5,46.5 143.5,46.3 C145.5,46.1 148.8,45.7 151.5,45.8 C154.2,45.9 156.8,46.8 159.5,47.0 C162.2,47.2 164.8,47.1 167.5,47.0 C170.2,46.9 172.8,46.4 175.5,46.2 C178.2,46.0 180.8,45.8 183.5,45.8 C186.2,45.8 189.2,45.9 191.5,46.2 C193.8,46.5 195.8,47.4 197.5,47.8 C199.2,48.2 200.2,48.8 201.5,48.8 C202.8,48.8 203.9,48.2 205.5,48.0 C207.1,47.8 210.1,47.8 211.0,47.8" fill="none" stroke="#fdc070" stroke-width="1.3"/>
    <path d="M59.5,45.4 C60.2,45.5 62.7,45.6 64.0,45.9 C65.3,46.2 66.2,46.5 67.5,47.0 C68.8,47.5 70.2,48.1 71.5,48.8 C72.8,49.5 74.1,50.2 75.5,51.0 C76.9,51.8 78.6,52.7 80.0,53.5 C81.4,54.2 82.7,54.9 84.0,55.6 C85.3,56.4 86.7,57.1 88.0,57.9 C89.3,58.6 90.7,59.3 92.0,59.9 C93.3,60.6 94.7,61.2 96.0,61.7 C97.3,62.1 98.7,62.5 100.0,62.8 C101.3,63.1 102.7,63.2 104.0,63.2 C105.3,63.2 106.7,63.1 108.0,62.8 C109.3,62.5 110.7,62.1 112.0,61.7 C113.3,61.2 114.7,60.6 116.0,59.9 C117.3,59.3 118.7,58.6 120.0,57.9 C121.3,57.1 122.7,56.4 124.0,55.6 C125.3,54.8 126.7,53.9 128.0,53.1 C129.3,52.3 130.8,51.4 132.0,50.6 C133.2,49.9 134.2,49.2 135.5,48.6 C136.8,48.0 138.2,47.5 139.5,47.1 C140.8,46.7 141.5,46.5 143.5,46.3 C145.5,46.1 150.2,45.9 151.5,45.8" fill="none" stroke="none" stroke-width="1.2" stroke-linecap="round"/></g>
    <!-- bottom layer -->
    <rect x="0" y="87.2" width="209" height="51.8" fill="url(#warm2botH)"/>
    <rect x="0" y="87.2" width="209" height="51.8" fill="url(#warm2botV)"/>
  </g>
  <rect x="0.8" y="0.8" width="207.4" height="137.4" fill="none" stroke="#000" stroke-width="1.65"/>
</g>
</defs>
<rect width="550" height="444" fill="#fff"/>
<use href="#blue" x="28.5" y="30.2"/>
<line x1="31" x2="235" y1="32.85" y2="32.85" stroke="#d8eef8" stroke-width="1.7" stroke-dasharray="1,1" opacity="0.4"/>
<text transform="translate(91.6,12.8) scale(1.07,1)" class="ax" font-size="12.2" letter-spacing="0.2" word-spacing="-1.7">Distance (km)</text>
<text x="88.1" y="25.5" class="ax" text-anchor="middle" font-size="12.4">2</text>
<line x1="88.1" x2="88.1" y1="27.0" y2="30.7" stroke="#333" stroke-width="0.9"/>
<text x="147.8" y="25.5" class="ax" text-anchor="middle" font-size="12.4">4</text>
<line x1="147.8" x2="147.8" y1="27.0" y2="30.7" stroke="#333" stroke-width="0.9"/>
<text x="207.5" y="25.5" class="ax" text-anchor="middle" font-size="12.4">6</text>
<line x1="207.5" x2="207.5" y1="27.0" y2="30.7" stroke="#333" stroke-width="0.9"/>
<text x="26.4" y="34.9" class="ax" text-anchor="end" font-size="12.4">0</text>
<text x="26.4" y="103.9" class="ax" text-anchor="end" font-size="12.4">1</text>
<text x="26.4" y="172.1" class="ax" text-anchor="end" font-size="12.4">2</text>
<line x1="25.4" x2="29.0" y1="99.6" y2="99.6" stroke="#333" stroke-width="0.9"/>
<line x1="25.7" x2="29.0" y1="168.1" y2="168.1" stroke="#333" stroke-width="0.8"/>
<text transform="translate(13.1,126.9) rotate(-90)" class="ax" font-size="11.9" textLength="55.3" lengthAdjust="spacingAndGlyphs">Depth (km)</text>
<text x="134.8" y="182.0" class="lab" text-anchor="middle" font-size="14" letter-spacing="1">(a)</text>
<use href="#blue" x="336.0" y="30.2"/>
<line x1="338" x2="543" y1="32.85" y2="32.85" stroke="#d8eef8" stroke-width="1.7" stroke-dasharray="1,1" opacity="0.4"/>
<text transform="translate(399.1,12.8) scale(1.07,1)" class="ax" font-size="12.2" letter-spacing="0.2" word-spacing="-1.7">Distance (km)</text>
<text x="395.6" y="25.5" class="ax" text-anchor="middle" font-size="12.4">2</text>
<line x1="395.6" x2="395.6" y1="27.0" y2="30.7" stroke="#333" stroke-width="0.9"/>
<text x="455.3" y="25.5" class="ax" text-anchor="middle" font-size="12.4">4</text>
<line x1="455.3" x2="455.3" y1="27.0" y2="30.7" stroke="#333" stroke-width="0.9"/>
<text x="515.0" y="25.5" class="ax" text-anchor="middle" font-size="12.4">6</text>
<line x1="515.0" x2="515.0" y1="27.0" y2="30.7" stroke="#333" stroke-width="0.9"/>
<text x="333.9" y="34.9" class="ax" text-anchor="end" font-size="12.4">0</text>
<text x="333.9" y="103.9" class="ax" text-anchor="end" font-size="12.4">1</text>
<text x="333.9" y="172.1" class="ax" text-anchor="end" font-size="12.4">2</text>
<line x1="332.9" x2="336.5" y1="99.6" y2="99.6" stroke="#333" stroke-width="0.9"/>
<line x1="333.2" x2="336.5" y1="168.1" y2="168.1" stroke="#333" stroke-width="0.8"/>
<text transform="translate(320.6,126.9) rotate(-90)" class="ax" font-size="11.9" textLength="55.3" lengthAdjust="spacingAndGlyphs">Depth (km)</text>
<text x="442.3" y="182.0" class="lab" text-anchor="middle" font-size="14" letter-spacing="1">(b)</text>
<use href="#warm" x="30.0" y="224.7"/>
<line x1="32" x2="237" y1="227.35" y2="227.35" stroke="#ffffff" stroke-width="1.7" stroke-dasharray="1,1" opacity="0.4"/>
<text transform="translate(93.1,207.3) scale(1.07,1)" class="ax" font-size="12.2" letter-spacing="0.2" word-spacing="-1.7">Distance (km)</text>
<text x="89.6" y="220.0" class="ax" text-anchor="middle" font-size="12.4">2</text>
<line x1="89.6" x2="89.6" y1="221.5" y2="225.2" stroke="#333" stroke-width="0.9"/>
<text x="149.3" y="220.0" class="ax" text-anchor="middle" font-size="12.4">4</text>
<line x1="149.3" x2="149.3" y1="221.5" y2="225.2" stroke="#333" stroke-width="0.9"/>
<text x="209.0" y="220.0" class="ax" text-anchor="middle" font-size="12.4">6</text>
<line x1="209.0" x2="209.0" y1="221.5" y2="225.2" stroke="#333" stroke-width="0.9"/>
<text x="27.9" y="229.4" class="ax" text-anchor="end" font-size="12.4">0</text>
<text x="27.9" y="298.4" class="ax" text-anchor="end" font-size="12.4">1</text>
<text x="27.9" y="366.6" class="ax" text-anchor="end" font-size="12.4">2</text>
<line x1="26.9" x2="30.5" y1="294.1" y2="294.1" stroke="#333" stroke-width="0.9"/>
<line x1="27.2" x2="30.5" y1="362.6" y2="362.6" stroke="#333" stroke-width="0.8"/>
<text transform="translate(14.6,321.4) rotate(-90)" class="ax" font-size="11.9" textLength="55.3" lengthAdjust="spacingAndGlyphs">Depth (km)</text>
<text x="136.3" y="376.5" class="lab" text-anchor="middle" font-size="14" letter-spacing="1">(c)</text>
<use href="#warm2" x="337.6" y="224.7"/>
<line x1="340" x2="544" y1="227.35" y2="227.35" stroke="#ffffff" stroke-width="1.7" stroke-dasharray="1,1" opacity="0.4"/>
<text transform="translate(400.7,207.3) scale(1.07,1)" class="ax" font-size="12.2" letter-spacing="0.2" word-spacing="-1.7">Distance (km)</text>
<text x="397.2" y="220.0" class="ax" text-anchor="middle" font-size="12.4">2</text>
<line x1="397.2" x2="397.2" y1="221.5" y2="225.2" stroke="#333" stroke-width="0.9"/>
<text x="456.9" y="220.0" class="ax" text-anchor="middle" font-size="12.4">4</text>
<line x1="456.9" x2="456.9" y1="221.5" y2="225.2" stroke="#333" stroke-width="0.9"/>
<text x="516.6" y="220.0" class="ax" text-anchor="middle" font-size="12.4">6</text>
<line x1="516.6" x2="516.6" y1="221.5" y2="225.2" stroke="#333" stroke-width="0.9"/>
<text x="335.5" y="229.4" class="ax" text-anchor="end" font-size="12.4">0</text>
<text x="335.5" y="298.4" class="ax" text-anchor="end" font-size="12.4">1</text>
<text x="335.5" y="366.6" class="ax" text-anchor="end" font-size="12.4">2</text>
<line x1="334.5" x2="338.1" y1="294.1" y2="294.1" stroke="#333" stroke-width="0.9"/>
<line x1="334.8" x2="338.1" y1="362.6" y2="362.6" stroke="#333" stroke-width="0.8"/>
<text transform="translate(322.2,321.4) rotate(-90)" class="ax" font-size="11.9" textLength="55.3" lengthAdjust="spacingAndGlyphs">Depth (km)</text>
<text x="443.9" y="376.5" class="lab" text-anchor="middle" font-size="14" letter-spacing="1">(d)</text>
<rect x="138.8" y="412.2" width="137" height="8.6" fill="url(#cbar)" stroke="#000" stroke-width="1.5"/>
<line x1="158.2" x2="158.2" y1="421.3" y2="424.7" stroke="#333" stroke-width="0.9"/>
<text x="158.2" y="435.5" class="ax" text-anchor="middle" font-size="11.4">2</text>
<line x1="178.2" x2="178.2" y1="421.3" y2="424.7" stroke="#333" stroke-width="0.9"/>
<text x="178.2" y="435.5" class="ax" text-anchor="middle" font-size="11.4">4</text>
<line x1="198.2" x2="198.2" y1="421.3" y2="424.7" stroke="#333" stroke-width="0.9"/>
<text x="198.2" y="435.5" class="ax" text-anchor="middle" font-size="11.4">6</text>
<line x1="218.2" x2="218.2" y1="421.3" y2="424.7" stroke="#333" stroke-width="0.9"/>
<text x="218.2" y="435.5" class="ax" text-anchor="middle" font-size="11.4">8</text>
<line x1="238.2" x2="238.2" y1="421.3" y2="424.7" stroke="#333" stroke-width="0.9"/>
<text x="238.2" y="435.5" class="ax" text-anchor="middle" font-size="11.4">10</text>
<line x1="258.2" x2="258.2" y1="421.3" y2="424.7" stroke="#333" stroke-width="0.9"/>
<text x="258.2" y="435.5" class="ax" text-anchor="middle" font-size="11.4">12</text>
<text x="285.6" y="422.8" class="ax" font-size="14.6" textLength="67" lengthAdjust="spacingAndGlyphs">Amplitude</text>
<g class="fm">
<line x1="371.3" x2="433.6" y1="416.6" y2="416.6" stroke="#222" stroke-width="0.9"/>
<text x="371.8" y="410.8" font-size="12.5" font-style="normal">Σ</text>
<text x="374.6" y="414.6" font-size="4.5" font-style="italic">i</text>
<text x="380.2" y="411" font-size="14" font-style="italic">M</text>
<text x="395.2" y="405.2" font-size="9" font-style="italic">i</text>
<text x="393.2" y="414.2" font-size="9.4" font-style="italic">illu</text>
<text x="407.8" y="410.8" font-size="14.5" letter-spacing="0.4"><tspan font-style="normal">(</tspan><tspan font-style="italic">z</tspan><tspan font-style="normal">)</tspan></text>
<text x="372.2" y="432.1" font-size="14" font-style="italic">M</text>
<text x="387.2" y="427.3" font-size="7.5" font-style="normal">0</text>
<text x="385.4" y="435.3" font-size="9.4" font-style="italic">illu</text>
<text x="399.8" y="431.9" font-size="14.5" letter-spacing="0.4"><tspan font-style="normal">(</tspan><tspan font-style="italic">z</tspan><tspan font-style="normal">)</tspan></text>
<line x1="417.8" x2="417.8" y1="419.3" y2="439" stroke="#222" stroke-width="0.9"/>
<text x="419.6" y="439.8" font-size="8.2"><tspan font-style="italic">z</tspan><tspan font-style="normal">=1</tspan></text>
</g>
</svg>
</body></html>
